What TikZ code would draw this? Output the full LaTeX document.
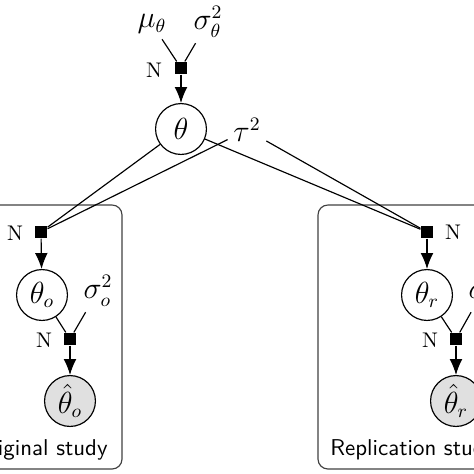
\documentclass[tikz,border=0pt]{standalone}
\usetikzlibrary{arrows.meta}
\begin{document}
\begin{tikzpicture}[x=0.4717pt,y=-0.4717pt,
  mathfont/.style={font=\fontsize{13.5pt}{16pt}\selectfont},
  latent/.style={circle,draw=black,line width=0.55pt,minimum size=24pt,inner sep=0pt,mathfont},
  obs/.style={latent,fill=black!12},
  par/.style={inner sep=2.5pt,mathfont},
  factor/.style={rectangle,fill=black,minimum size=5.8pt,inner sep=0pt},
  flabel/.style={inner sep=0pt,font=\fontsize{10pt}{12pt}\selectfont},
  edge/.style={line width=0.55pt},
  arr/.style={edge,-{Latex[length=7.5pt,width=6pt]}},
  plate/.style={draw=black!75,line width=0.55pt,rounded corners=4.7pt},
  caption/.style={inner sep=0pt,font=\sffamily\fontsize{10.8pt}{13pt}\selectfont}]
\useasboundingbox (0,0) rectangle (474,474);
% plates
\draw[plate] (-37,205) rectangle (122,469);
\draw[plate] (318,205) rectangle (540,469);
\node[caption,anchor=base east] (capo) at (108,455) {Original study};
\node[caption,anchor=base west] (capr) at (330,455) {Replication study};
% top
\node[par] (mu) at (152,24) {$\mu_\theta$};
\node[par] (sig) at (208,22) {$\sigma^2_\theta$};
\node[factor] (f1) at (181,68) {};
\node[flabel] (n1) at (154,70) {N};
\node[latent] (theta) at (181,129) {$\theta$};
\node[par] (tau) at (247,130) {$\tau^2$};
% original
\node[factor] (f2) at (41,232) {};
\node[flabel] (n2) at (15,233) {N};
\node[latent] (thetao) at (42,295) {$\theta_o$};
\node[par] (sigo) at (98,291) {$\sigma^2_o$};
\node[factor] (f4) at (70,339) {};
\node[flabel] (n4) at (44,340) {N};
\node[obs] (thetaho) at (70,401) {$\hat\theta_o$};
% replication
\node[factor] (f3) at (427,232) {};
\node[flabel] (n3) at (453,232) {N};
\node[latent] (thetar) at (427,295) {$\theta_r$};
\node[par] (sigr) at (483,291) {$\sigma^2_r$};
\node[factor] (f5) at (456,339) {};
\node[flabel] (n5) at (430,340) {N};
\node[obs] (thetahr) at (456,401) {$\hat\theta_r$};
% edges
\draw[edge] (mu) -- (f1);
\draw[edge] (sig) -- (f1);
\draw[arr] (f1) -- (theta);
\draw[edge] (theta) -- (f2);
\draw[edge] (tau) -- (f2);
\draw[edge] (theta) -- (f3);
\draw[edge] (tau) -- (f3);
\draw[arr] (f2) -- (thetao);
\draw[arr] (f3) -- (thetar);
\draw[edge] (thetao) -- (f4);
\draw[edge] (sigo) -- (f4);
\draw[arr] (f4) -- (thetaho);
\draw[edge] (thetar) -- (f5);
\draw[edge] (sigr) -- (f5);
\draw[arr] (f5) -- (thetahr);
\end{tikzpicture}
\end{document}
